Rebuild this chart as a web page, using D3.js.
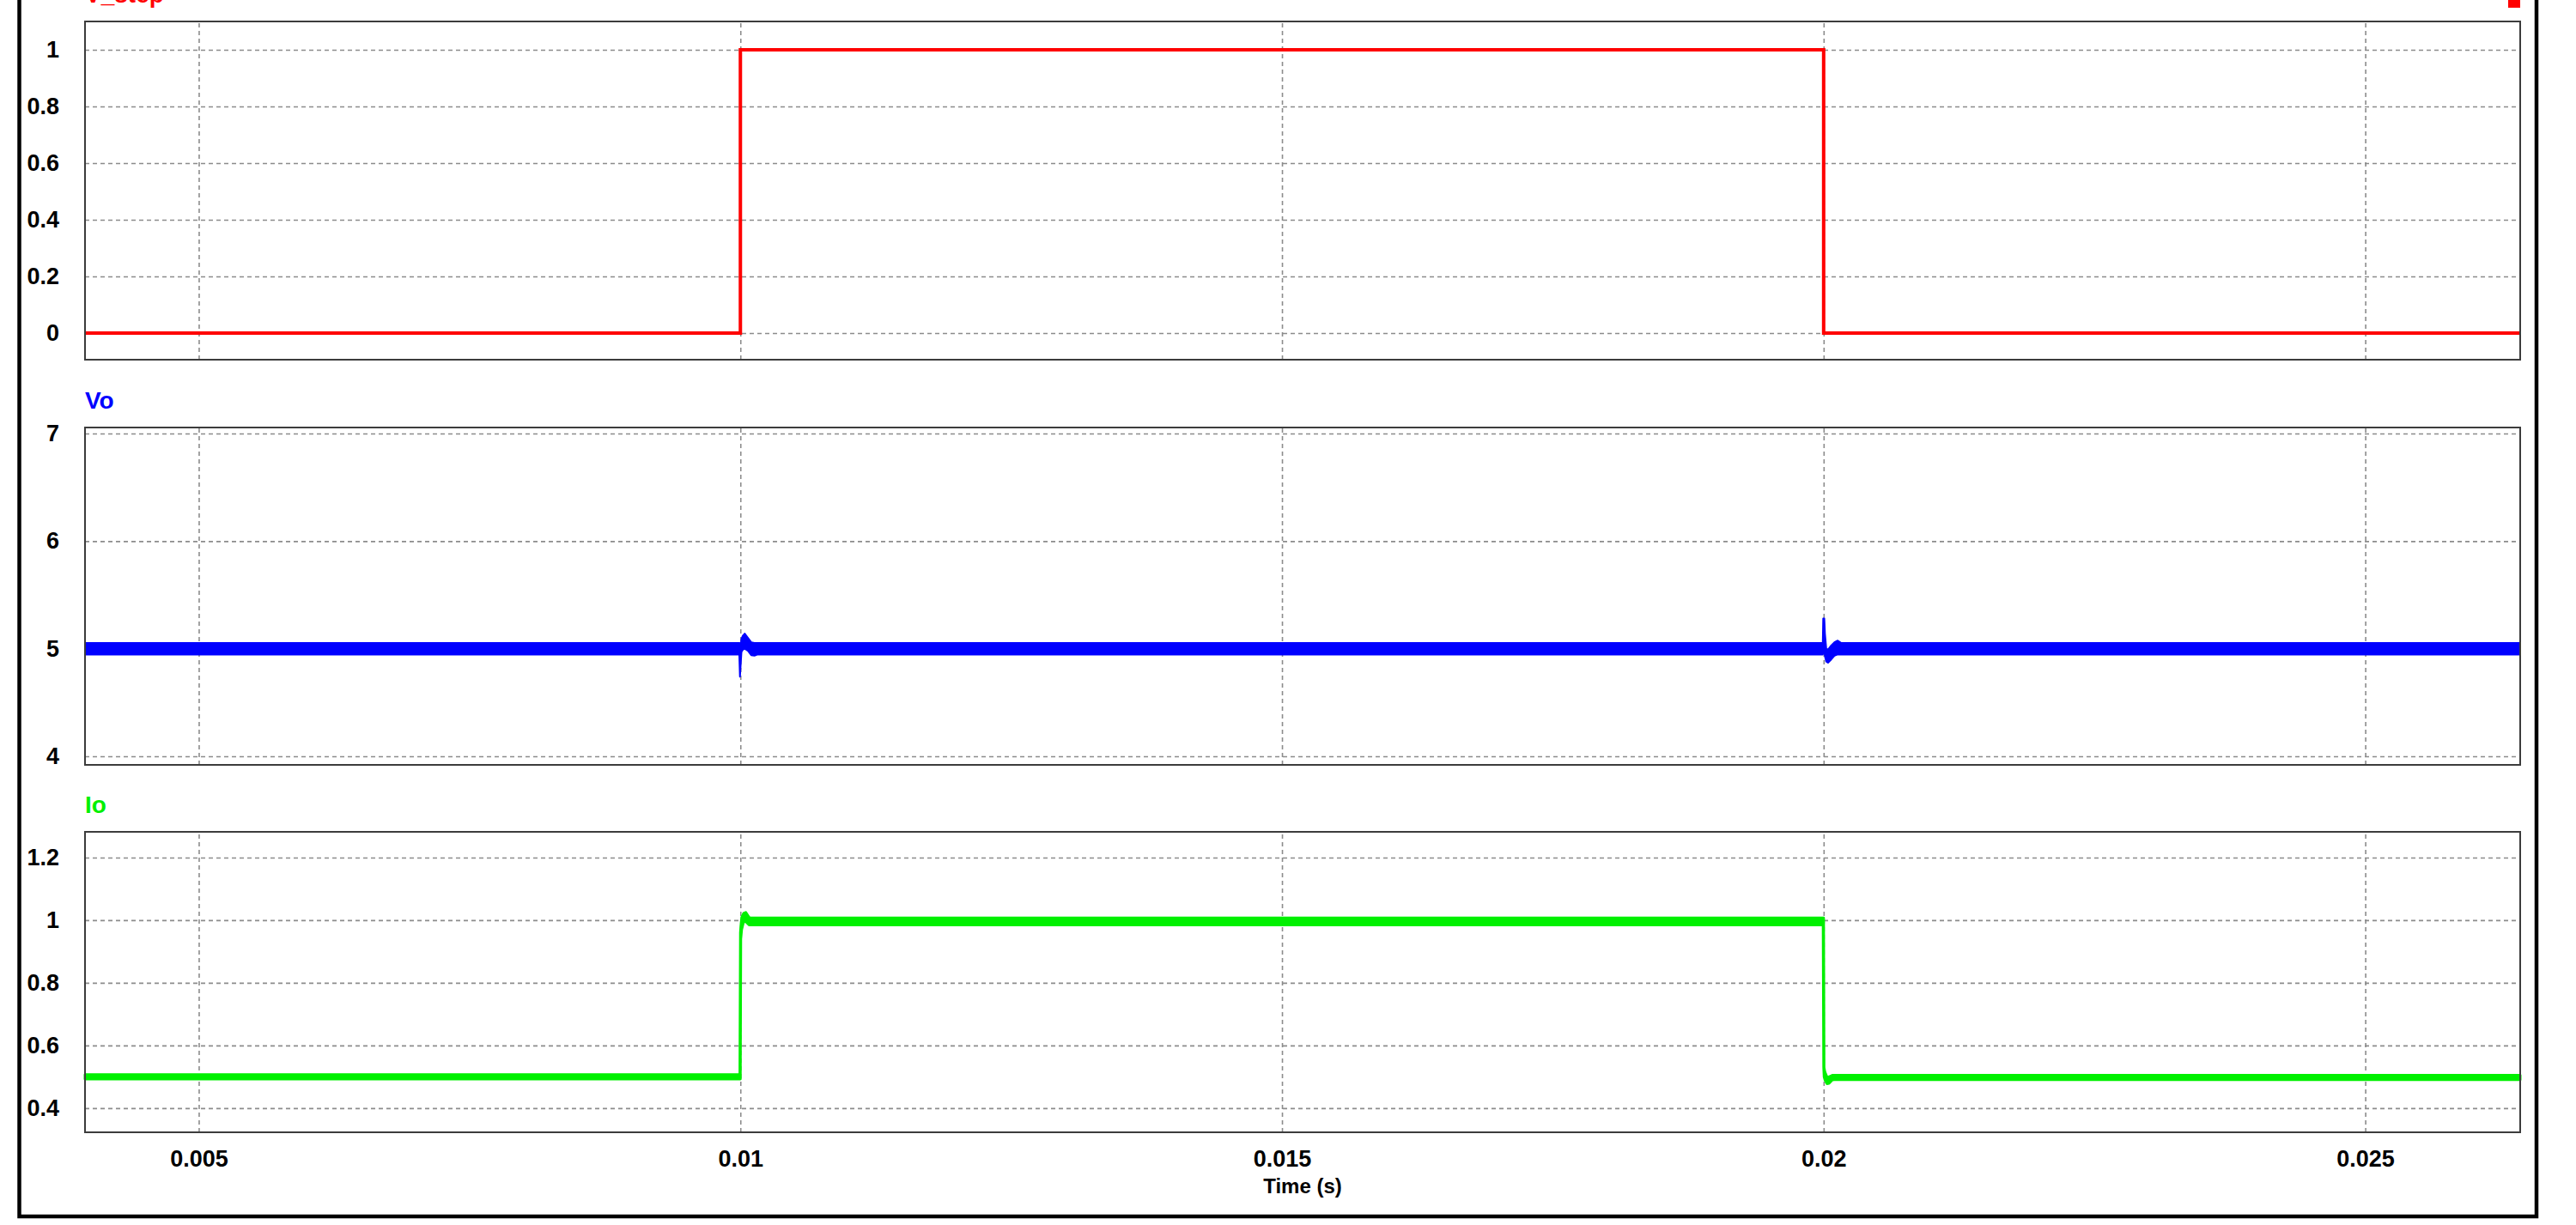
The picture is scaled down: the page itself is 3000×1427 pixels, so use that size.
<!DOCTYPE html>
<html>
<head>
<meta charset="utf-8">
<script src="https://cdn.jsdelivr.net/npm/d3@7"></script>
<style>
  body { margin: 0; background: #fff; }
  text { font-family: "Liberation Sans", Arial, sans-serif; font-weight: bold; }
</style>
</head>
<body>
<div id="chart"></div>
<script>
// datos
const xTicks = [0.005, 0.01, 0.015, 0.02, 0.025]
const xLabels = ["0.005", "0.01", "0.015", "0.02", "0.025"]

const tStep = [0.00395, 0.01, 0.01, 0.02, 0.02, 0.02643]
const vStep = [0, 0, 1, 1, 0, 0]

// Vo: envolvente del rizado (min / max)
const tVo = [0.00395, 0.00999, 0.009996, 0.010002, 0.01001, 0.010022, 0.01004, 0.01007, 0.0101, 0.01013, 0.01016,
             0.019992, 0.019996, 0.020006, 0.020012, 0.020024, 0.02004, 0.02007, 0.0201, 0.02013, 0.02016, 0.02643]
const voLo = [4.946, 4.946, 4.74, 4.84, 4.97, 4.99, 5.0, 4.98, 4.94, 4.935, 4.946,
              4.946, 4.96, 4.98, 4.93, 4.88, 4.87, 4.9, 4.935, 4.946, 4.946, 4.946]
const voHi = [5.054, 5.054, 5.05, 5.03, 5.09, 5.12, 5.14, 5.1, 5.06, 5.054, 5.054,
              5.054, 5.28, 5.28, 5.14, 5.0, 4.99, 5.03, 5.06, 5.075, 5.054, 5.054]

// Io: envolvente del rizado (min / max)
const tIo = [0.00395, 0.009995, 0.01, 0.010004, 0.010012, 0.01003, 0.01005, 0.01008, 0.0101,
             0.019995, 0.02, 0.020004, 0.020012, 0.02003, 0.02005, 0.02008, 0.0201, 0.02643]
const ioLo = [0.493, 0.493, 0.493, 0.94, 0.97, 0.995, 0.995, 0.985, 0.985,
              0.985, 0.53, 0.5, 0.49, 0.478, 0.479, 0.49, 0.491, 0.491]
const ioHi = [0.507, 0.507, 0.96, 0.98, 1.009, 1.022, 1.025, 1.009, 1.007,
              1.007, 1.007, 0.53, 0.515, 0.5, 0.5, 0.505, 0.505, 0.505]

const panels = [
    { name: "V_step", color: "#ff0000", top: 25, bottom: 419, domain: [-0.094, 1.1], ticks: [0, 0.2, 0.4, 0.6, 0.8, 1] },
    { name: "Vo", color: "#0000ff", top: 498, bottom: 891, domain: [3.92, 7.056], ticks: [4, 5, 6, 7] },
    { name: "Io", color: "#00f000", top: 969, bottom: 1319, domain: [0.323, 1.282], ticks: [0.4, 0.6, 0.8, 1, 1.2] }
]

const width = 3000
const height = 1427
const left = 99
const right = 2935

const svg = d3.select("div#chart").append("svg").attr("width", width).attr("height", height)
svg.append("rect").attr("width", width).attr("height", height).attr("fill", "#fff")

const x = d3.scaleLinear().domain([0.00395, 0.02643]).range([left, right])

panels.forEach(p => {
    const y = d3.scaleLinear().domain(p.domain).range([p.bottom, p.top])
    p.y = y
    const g = svg.append("g").attr("class", "panel")

    // rejilla vertical
    const gx = g.append("g").attr("transform", `translate(0, ${p.bottom})`)
        .call(d3.axisBottom(x).tickValues(xTicks).tickSize(-(p.bottom - p.top)).tickFormat(""))
    gx.select(".domain").remove()
    gx.selectAll("line").attr("stroke", "#8c8c8c").attr("stroke-width", 1.6).attr("stroke-dasharray", "5,4")

    // rejilla horizontal + etiquetas
    const gy = g.append("g").attr("transform", `translate(${left}, 0)`)
        .call(d3.axisLeft(y).tickValues(p.ticks).tickSize(-(right - left)).tickPadding(30).tickFormat(d3.format("~g")))
    gy.select(".domain").remove()
    gy.selectAll("line").attr("stroke", "#8c8c8c").attr("stroke-width", 1.6).attr("stroke-dasharray", "5,4")
    gy.selectAll("text").attr("fill", "#000").attr("font-size", 27)
        .attr("font-family", "'Liberation Sans', Arial, sans-serif").attr("font-weight", "bold")

    // titulo del panel
    g.append("text").attr("x", left).attr("y", p.top - 22).attr("fill", p.color)
        .attr("font-size", 28).text(p.name)
})

// V_step
const pStep = panels[0]
svg.append("path")
    .datum(tStep.map((t, i) => [t, vStep[i]]))
    .attr("fill", "none").attr("stroke", "#ff0000").attr("stroke-width", 4)
    .attr("d", d3.line().x(d => x(d[0])).y(d => pStep.y(d[1])))

// Vo
const pVo = panels[1]
svg.append("path")
    .datum(tVo.map((t, i) => [t, voLo[i], voHi[i]]))
    .attr("fill", "#0000ff").attr("stroke", "#0000ff").attr("stroke-width", 2).attr("stroke-linejoin", "round")
    .attr("d", d3.area().x(d => x(d[0])).y0(d => pVo.y(d[1])).y1(d => pVo.y(d[2])))

// Io
const pIo = panels[2]
svg.append("path")
    .datum(tIo.map((t, i) => [t, ioLo[i], ioHi[i]]))
    .attr("fill", "#00f000").attr("stroke", "#00f000").attr("stroke-width", 3).attr("stroke-linejoin", "round")
    .attr("d", d3.area().x(d => x(d[0])).y0(d => pIo.y(d[1])).y1(d => pIo.y(d[2])))

// marcos
panels.forEach(p => {
    svg.append("rect").attr("x", left).attr("y", p.top).attr("width", right - left).attr("height", p.bottom - p.top)
        .attr("fill", "none").attr("stroke", "#3c3c3c").attr("stroke-width", 2)
})

// eje x
const xAxisGroup = svg.append("g").attr("transform", `translate(0, ${pIo.bottom})`)
    .call(d3.axisBottom(x).tickValues(xTicks).tickSize(0).tickPadding(21).tickFormat((d, i) => xLabels[i]))
xAxisGroup.select(".domain").remove()
xAxisGroup.selectAll("text").attr("fill", "#000").attr("font-size", 27)
    .attr("font-family", "'Liberation Sans', Arial, sans-serif").attr("font-weight", "bold")

svg.append("text").attr("x", (left + right) / 2).attr("y", 1390).attr("text-anchor", "middle")
    .attr("font-size", 24).attr("fill", "#000").text("Time (s)")

// marcador rojo arriba a la derecha
svg.append("rect").attr("x", 2921).attr("y", -6).attr("width", 14).attr("height", 15).attr("fill", "#ff0000")

// borde exterior
svg.append("rect").attr("x", 22.5).attr("y", -20).attr("width", 2954 - 22.5).attr("height", 1417 + 20)
    .attr("fill", "none").attr("stroke", "#000").attr("stroke-width", 4.5)
</script>
</body>
</html>
